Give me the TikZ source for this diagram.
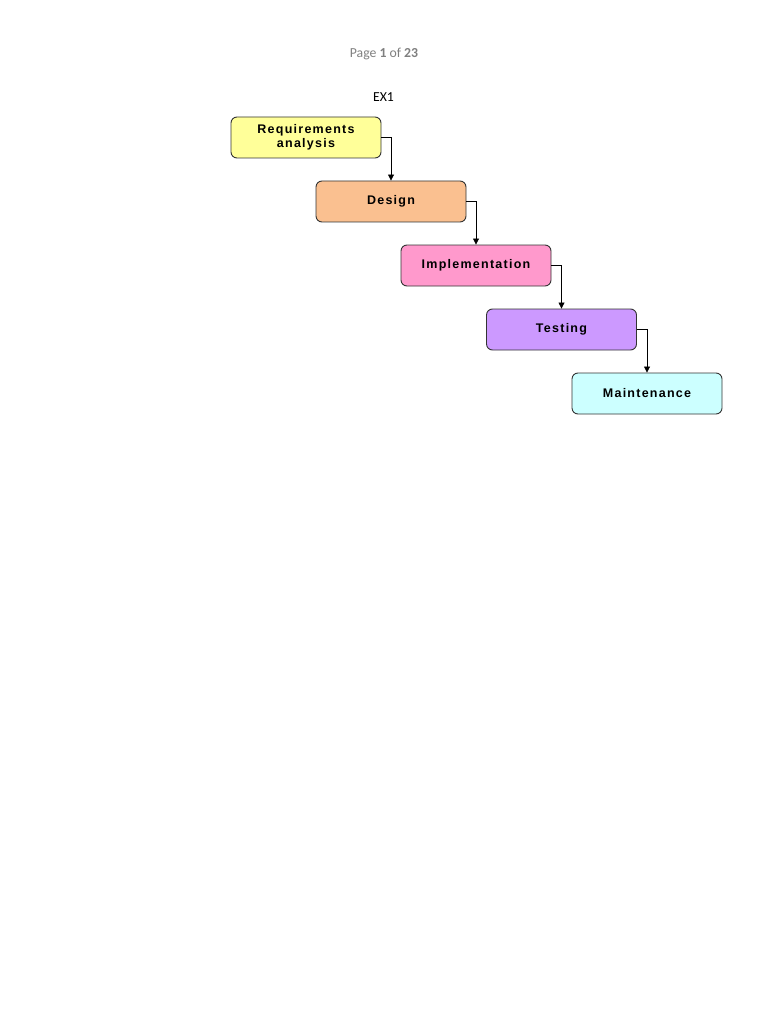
\documentclass[tikz,border=0pt]{standalone}
\usepackage{fontspec}
\setmainfont{Carlito}
\newfontfamily\boxfont{Liberation Sans Bold}[LetterSpace=10]
\usetikzlibrary{arrows.meta}
\usetikzlibrary{positioning}

\definecolor{reqyellow}{HTML}{FFFF99}
\definecolor{despeach}{HTML}{FAC090}
\definecolor{implpink}{HTML}{FF99CC}
\definecolor{testpurple}{HTML}{CC99FF}
\definecolor{maintcyan}{HTML}{CCFFFF}
\definecolor{pagegray}{HTML}{7F7F7F}

\begin{document}
\begin{tikzpicture}
    [x=1pt,y=-1pt,
    phase/.style={rectangle,rounded corners=6pt,draw=black!80,line width=0.9pt,
      inner sep=0pt,minimum width=150pt,minimum height=41pt,align=center,
      font=\boxfont\fontsize{12.5}{13.5}\selectfont},
    flow/.style={draw=black,line width=0.8pt,-{Triangle[length=6pt,width=6pt]}},
    header/.style={inner sep=0pt,font=\fontsize{13.75}{16}\selectfont}]

    \useasboundingbox (0,0) rectangle (768,1024);

    \node (page)           at (384,53.5)  [header,text=pagegray] {Page \textbf{1} of \textbf{23}};

    \node (exercise)       at (383.5,97)  [header] {EX1};

    \node (requirements)   at (306,137.5) [phase,fill=reqyellow] {Requirements\\analysis};

    \node (design)         at (391,201.5) [phase,fill=despeach] {Design};

    \node (implementation) at (476,265.5) [phase,fill=implpink] {Implementation};

    \node (testing)        at (561.5,329.5) [phase,fill=testpurple] {Testing};

    \node (maintenance)    at (647,393.5) [phase,fill=maintcyan] {Maintenance};

    \draw[flow] (requirements.east)   -| (design.north);
    \draw[flow] (design.east)         -| (implementation.north);
    \draw[flow] (implementation.east) -| (testing.north);
    \draw[flow] (testing.east)        -| (maintenance.north);
  \end{tikzpicture}
\end{document}
